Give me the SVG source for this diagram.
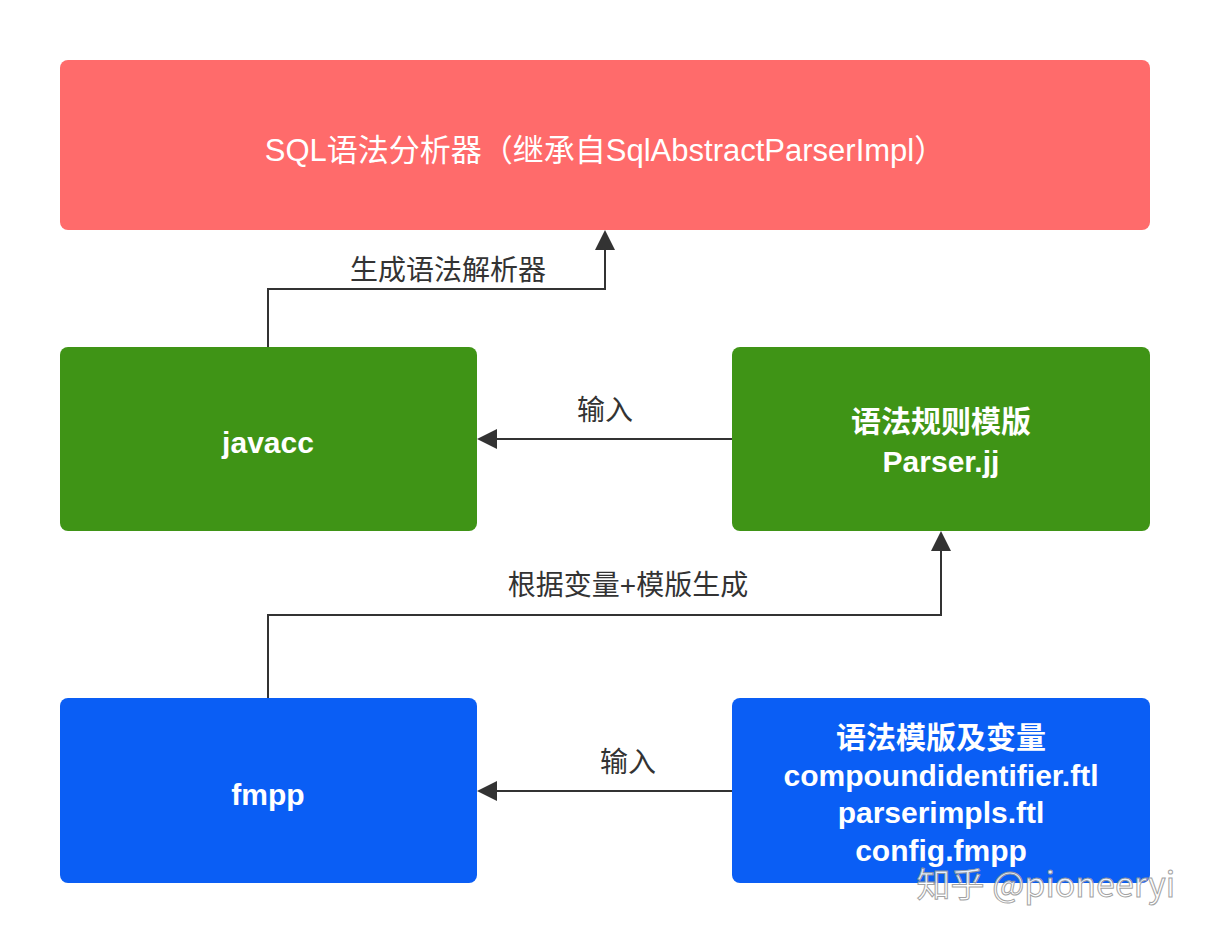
<svg xmlns="http://www.w3.org/2000/svg" width="1209" height="943" viewBox="0 0 1209 943">
<defs>
<style>
.t{font-family:"Liberation Sans","Noto Sans CJK SC",sans-serif;fill:#fff;font-size:30px;font-weight:bold;text-anchor:middle;dominant-baseline:central}
.l{font-family:"Liberation Sans","Noto Sans CJK SC",sans-serif;fill:#333;font-size:28px;text-anchor:middle;dominant-baseline:central}
.c{fill:none;stroke:#333;stroke-width:2}
</style>
<marker id="a" viewBox="0 0 10 10" refX="9" refY="5" markerWidth="22" markerHeight="20" markerUnits="userSpaceOnUse" orient="auto"><path d="M0 0L10 5L0 10z" fill="#333"/></marker>
</defs>
<rect width="1209" height="943" fill="#fff"/>
<g id="sql"><rect x="60" y="60" width="1090" height="170" rx="8" fill="#ff6b6b"/><text class="t" x="605" y="150" style="font-size:31px;font-weight:normal">SQL语法分析器（继承自SqlAbstractParserImpl）</text></g>
<g id="javacc"><rect x="60" y="347" width="417" height="184" rx="8" fill="#3f9416"/><text class="t" x="268" y="442">javacc</text></g>
<g id="parserjj"><rect x="732" y="347" width="418" height="184" rx="8" fill="#3f9416"/><text class="t" x="941" y="421">语法规则模版</text><text class="t" x="941" y="461">Parser.jj</text></g>
<g id="fmpp"><rect x="60" y="698" width="417" height="185" rx="8" fill="#0a5ef5"/><text class="t" x="268" y="794">fmpp</text></g>
<g id="tmpl"><rect x="732" y="698" width="418" height="185" rx="8" fill="#0a5ef5"/><text class="t" x="941" y="737">语法模版及变量</text><text class="t" x="941" y="775">compoundidentifier.ftl</text><text class="t" x="941" y="812">parserimpls.ftl</text><text class="t" x="941" y="850">config.fmpp</text></g>
<g id="connectors">
<path class="c" d="M268 347V289H605V232" marker-end="url(#a)"/>
<path class="c" d="M732 439H479" marker-end="url(#a)"/>
<path class="c" d="M268 698V615H941V533" marker-end="url(#a)"/>
<path class="c" d="M732 791H479" marker-end="url(#a)"/>
<text class="l" x="448" y="270">生成语法解析器</text>
<text class="l" x="605" y="410">输入</text>
<text class="l" x="628" y="585">根据变量+模版生成</text>
<text class="l" x="628" y="762">输入</text>
</g>
<text x="1175" y="897" style="font-family:'Noto Sans CJK SC',sans-serif;font-size:34px;fill:#fff;stroke:#999;stroke-width:1;text-anchor:end" opacity="0.9">知乎 @pioneeryi</text>
</svg>
